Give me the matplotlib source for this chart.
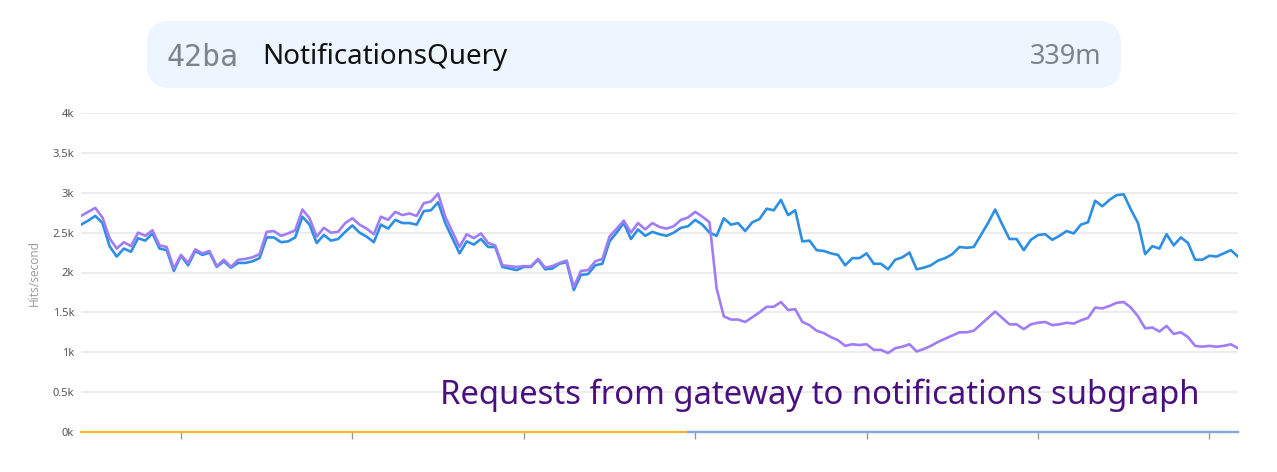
import matplotlib.pyplot as plt
from matplotlib.patches import FancyBboxPatch

# hits per second (in k), one point per sample
gateway_hits = [
    2.60, 2.65, 2.71, 2.62, 2.33, 2.20, 2.30, 2.26, 2.43, 2.40, 2.49, 2.30, 2.28, 2.02,
    2.21, 2.09, 2.27, 2.22, 2.25, 2.07, 2.14, 2.06, 2.12, 2.12, 2.14, 2.18, 2.44, 2.44,
    2.38, 2.39, 2.44, 2.70, 2.60, 2.37, 2.47, 2.40, 2.42, 2.51, 2.59, 2.50, 2.45, 2.38,
    2.60, 2.55, 2.66, 2.62, 2.62, 2.60, 2.77, 2.78, 2.88, 2.62, 2.43, 2.24,
    2.39, 2.35, 2.42, 2.32, 2.32, 2.07, 2.05, 2.03, 2.07, 2.07, 2.16, 2.04, 2.05, 2.11,
    2.13, 1.78, 1.97, 1.98, 2.09, 2.11, 2.39, 2.50, 2.62, 2.42, 2.54,
    2.46, 2.51, 2.48, 2.46, 2.50, 2.56, 2.58, 2.66, 2.60, 2.50, 2.46, 2.68, 2.60, 2.62,
    2.52, 2.63, 2.67, 2.80, 2.78, 2.91, 2.72, 2.78, 2.39, 2.40, 2.28, 2.27, 2.24, 2.22,
    2.09, 2.18, 2.18, 2.24, 2.11, 2.11, 2.04, 2.16, 2.19, 2.25, 2.04, 2.06, 2.09, 2.15,
    2.18, 2.23, 2.32, 2.31, 2.32, 2.47, 2.62, 2.79, 2.60, 2.42, 2.42, 2.28,
    2.41, 2.47, 2.48, 2.41, 2.46, 2.52, 2.49, 2.60, 2.63, 2.90, 2.83, 2.91, 2.97, 2.98,
    2.79, 2.62, 2.23, 2.33, 2.30, 2.48, 2.34, 2.44, 2.37, 2.16, 2.16, 2.21, 2.20, 2.24,
    2.28, 2.20,
]

subgraph_hits = [
    2.71, 2.76, 2.81, 2.69, 2.43, 2.30, 2.38, 2.33, 2.50, 2.46, 2.53, 2.34, 2.32, 2.05,
    2.22, 2.12, 2.29, 2.24, 2.27, 2.08, 2.16, 2.07, 2.16, 2.17, 2.19, 2.23, 2.51, 2.52,
    2.46, 2.49, 2.53, 2.79, 2.68, 2.45, 2.56, 2.50, 2.51, 2.62, 2.68, 2.60, 2.55, 2.48,
    2.70, 2.66, 2.76, 2.72, 2.74, 2.71, 2.87, 2.89, 2.99, 2.70, 2.51, 2.32,
    2.48, 2.43, 2.49, 2.37, 2.34, 2.09, 2.08, 2.07, 2.08, 2.08, 2.17, 2.06, 2.08, 2.12,
    2.15, 1.82, 2.02, 2.03, 2.14, 2.17, 2.45, 2.55, 2.65, 2.50, 2.62,
    2.54, 2.62, 2.57, 2.55, 2.58, 2.66, 2.69, 2.76, 2.70, 2.63, 1.80, 1.45, 1.41, 1.41,
    1.38, 1.44, 1.50, 1.57, 1.57, 1.63, 1.53, 1.54, 1.38, 1.34, 1.27, 1.24, 1.19, 1.15,
    1.08, 1.10, 1.09, 1.10, 1.03, 1.03, 0.99, 1.05, 1.07, 1.10, 1.01, 1.04, 1.08, 1.13,
    1.17, 1.21, 1.25, 1.25, 1.27, 1.35, 1.43, 1.51, 1.43, 1.35, 1.35, 1.29,
    1.35, 1.37, 1.38, 1.34, 1.35, 1.37, 1.36, 1.40, 1.43, 1.56, 1.55, 1.58, 1.62, 1.63,
    1.56, 1.45, 1.30, 1.31, 1.26, 1.33, 1.23, 1.25, 1.19, 1.08, 1.07, 1.08, 1.07, 1.08,
    1.10, 1.05,
]

# errors sit on zero the whole time
error_hits = [0.0] * len(gateway_hits)
error_start = 85

yticks = [0, 500, 1000, 1500, 2000, 2500, 3000, 3500, 4000]
ytick_labels = ["0k", "0.5k", "1k", "1.5k", "2k", "2.5k", "3k", "3.5k", "4k"]
xticks = [14, 38, 62, 86, 110, 134, 158]

x = list(range(len(gateway_hits)))
gateway = [v * 1000 for v in gateway_hits]
subgraph = [v * 1000 for v in subgraph_hits]

fig = plt.figure(figsize=(12.77, 4.72), dpi=100)

# header box
box = FancyBboxPatch((0.1151, 0.8136), 0.7627, 0.142,
                     boxstyle="round,pad=0,rounding_size=0.018",
                     transform=fig.transFigure, facecolor="#edf5fe",
                     edgecolor="none", mutation_aspect=2.7)
fig.patches.append(box)
fig.text(0.130, 0.879, "42ba", fontsize=21.5, color="#7d838c",
         family="DejaVu Sans Mono", va="center", ha="left")
fig.text(0.205, 0.879, "NotificationsQuery", fontsize=20, color="#111111",
         family="Noto Sans", va="center", ha="left")
fig.text(0.8625, 0.879, "339m", fontsize=19.5, color="#7d838c",
         family="Noto Sans", va="center", ha="right")

ax = fig.add_axes([81 / 1277, 1 - 432 / 472, (1238 - 81) / 1277, (432 - 113) / 472])

ax.plot(x, gateway, color="#2d8fe3", linewidth=1.9, zorder=3)
ax.plot(x, subgraph, color="#a07cf7", linewidth=1.9, zorder=3)
ax.plot(x, error_hits, color="#f3b82a", linewidth=1.6, zorder=2, clip_on=False)
ax.plot(x[error_start:], error_hits[error_start:], color="#7da7ef",
        linewidth=1.6, zorder=2, clip_on=False)

ax.set_xlim(0, len(x) - 1)
ax.set_ylim(0, 4000)
ax.set_yticks(yticks)
ax.set_yticklabels(ytick_labels, fontsize=8, color="#555555", family="Noto Sans")
ax.set_xticks(xticks)
ax.set_xticklabels([])
ax.tick_params(axis="y", length=0, pad=5)
ax.tick_params(axis="x", length=5, width=1, color="#999999")
ax.grid(axis="y", color="#e9e9e9", linewidth=1.2)
ax.set_axisbelow(True)
for s in ax.spines.values():
    s.set_visible(False)

ax.set_ylabel("Hits/second", fontsize=8.5, color="#9aa0a6", family="Noto Sans", labelpad=8)

ax.text(0.967, 0.088, "Requests from gateway to notifications subgraph",
        transform=ax.transAxes, fontsize=23.7, color="#4a1080",
        family="Noto Sans", ha="right", va="baseline")

fig.savefig("out.png", dpi=100)
